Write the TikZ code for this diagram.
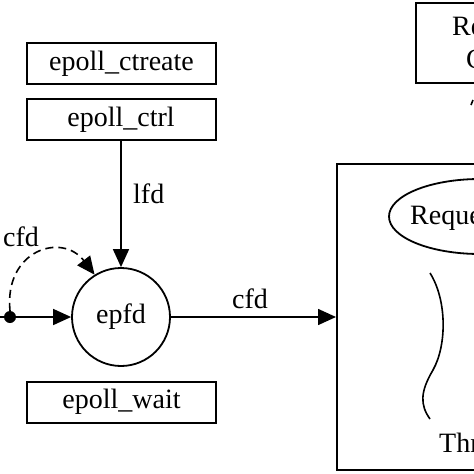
\documentclass[tikz,border=0pt]{standalone}
\usepackage{fontspec}
\setmainfont{Liberation Serif}
\usetikzlibrary{arrows.meta,shapes.geometric}
\begin{document}
\begin{tikzpicture}[x=1pt,y=-1pt,
  bigfont/.style={font=\fontsize{28}{30}\selectfont},
  fnbox/.style={draw,line width=2pt,minimum width=189pt,minimum height=41pt,inner sep=0pt,bigfont},
  lbl/.style={inner sep=0pt,anchor=base west,bigfont},
  wire/.style={line width=1.6pt},
  conn/.style={wire,-{Triangle[length=18pt,width=16pt]}},
]
\useasboundingbox (0,0) rectangle (474,474);
\clip (0,0) rectangle (474,474);
% left column
\node[fnbox] (create) at (121.5,63.5) {epoll\_ctreate};
\node[fnbox] (ctrl) at (121,119.5) {epoll\_ctrl};
\node[fnbox] (wait) at (121.5,402) {epoll\_wait};
\node[circle,draw,line width=1.8pt,minimum size=98pt,inner sep=0pt,bigfont] (epfd) at (121,317) {epfd};
\node[circle,fill,minimum size=12pt,inner sep=0pt] (dot) at (10,317) {};
\coordinate (west) at (-5,317);
% right side
\node[draw,line width=2pt,minimum width=144pt,minimum height=80pt,inner sep=0pt] (queue) at (488,43) {};
\node[lbl] (qa) at (452,35) {Re};
\node[lbl] (qb) at (466,68) {C};
\node[draw,line width=2pt,minimum width=263pt,minimum height=306pt,inner sep=0pt] (server) at (468.5,317) {};
\node[ellipse,draw,line width=1.8pt,minimum width=182pt,minimum height=75pt,inner sep=0pt] (req) at (480,216.5) {};
\node[lbl] (reqt) at (410,224) {Reque};
\node[lbl] (thr) at (439,452) {Thr};
\coordinate (w1) at (430,273);
\coordinate (w2) at (433,370);
\coordinate (w3) at (430,419);
\draw[wire] (w1) .. controls (447,300) and (447,345) .. (w2) .. controls (420,392) and (420,405) .. (w3);
\coordinate (m1) at (471,105);
\coordinate (m2) at (473,100);
\draw[wire] (m1) -- (m2);
% connectors
\draw[wire] (west) -- (dot);
\draw[conn] (dot) -- (epfd);
\draw[conn] (ctrl) -- (epfd);
\draw[conn] (epfd) -- (server);
\draw[conn,dash pattern=on 8pt off 5pt] (dot.north) .. controls (4,250) and (62,232) .. (epfd.122);
% labels
\node[lbl] (l1) at (3,246) {cfd};
\node[lbl] (l2) at (133,203) {lfd};
\node[lbl] (l3) at (232,308) {cfd};
\end{tikzpicture}
\end{document}
